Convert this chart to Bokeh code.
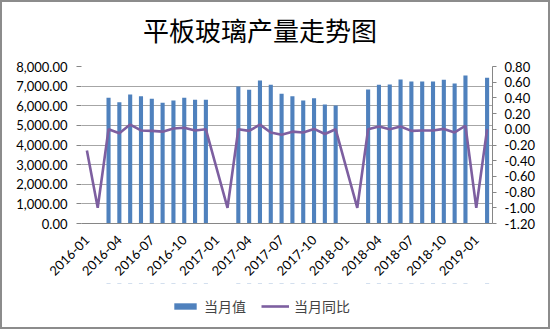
import math
from bokeh.plotting import figure
from bokeh.layouts import column
from bokeh.models import (Range1d, LinearAxis, FixedTicker, NumeralTickFormatter,
                          ColumnDataSource, Legend, LegendItem, Div)
from bokeh.embed import file_html
from bokeh.resources import INLINE

nan = float("nan")

months = [
    "2016-01", "2016-02", "2016-03", "2016-04", "2016-05", "2016-06", "2016-07", "2016-08",
    "2016-09", "2016-10", "2016-11", "2016-12",
    "2017-01", "2017-02", "2017-03", "2017-04", "2017-05", "2017-06", "2017-07", "2017-08",
    "2017-09", "2017-10", "2017-11", "2017-12",
    "2018-01", "2018-02", "2018-03", "2018-04", "2018-05", "2018-06", "2018-07", "2018-08",
    "2018-09", "2018-10", "2018-11", "2018-12",
    "2019-01", "2019-02",
]

monthly_value = [
    nan, nan, 6405, 6182, 6573, 6488, 6352, 6150, 6267, 6405, 6302, 6302,
    nan, nan, 6981, 6811, 7287, 7066, 6607, 6488, 6267, 6386, 6064, 6013,
    nan, nan, 6828, 7066, 7083, 7338, 7236, 7236, 7236, 7321, 7134, 7541,
    nan, 7423,
]

yoy = [
    -0.27, -1.00, 0.00, -0.05, 0.06, -0.015, -0.02, -0.03, 0.01, 0.02, -0.015, 0.00,
    nan, -1.00, 0.00, -0.02, 0.06, -0.04, -0.07, -0.03, -0.04, 0.005, -0.06, 0.00,
    nan, -1.00, 0.00, 0.035, 0.00, 0.035, -0.02, -0.015, -0.015, 0.005, -0.04, 0.045,
    -1.00, 0.00,
]

tick_labels = ["2016-01", "2016-04", "2016-07", "2016-10", "2017-01", "2017-04", "2017-07",
               "2017-10", "2018-01", "2018-04", "2018-07", "2018-10", "2019-01"]

left_ticks = [0, 1000, 2000, 3000, 4000, 5000, 6000, 7000, 8000]
right_ticks = [-1.2, -1.0, -0.8, -0.6, -0.4, -0.2, 0.0, 0.2, 0.4, 0.6, 0.8]

title_text = "平板玻璃产量走势图"
bar_name = "当月值"
line_name = "当月同比"

FONT = "Lato"
CJK = "Noto Sans CJK SC"
BLUE = "#4F81BD"
PURPLE = "#7D5FA0"
GRID = "#A6A6A6"
EDGE = "2px solid #8C8C8C"

n = len(months)
xs = list(range(n))

TITLE_H = 44
LEG_H = 46
MAIN_H = 329 - TITLE_H - LEG_H
FRAME_TOP = 66 - TITLE_H
FRAME_BOTTOM = 223 - TITLE_H

# title strip
title_div = Div(text=title_text, width=550, height=TITLE_H,
                styles={"font-family": CJK, "font-size": "26px", "line-height": "26px",
                        "color": "#000000", "padding-left": "141px", "padding-top": "15px",
                        "box-sizing": "border-box", "background": "white",
                        "border-left": EDGE, "border-top": EDGE, "border-right": EDGE,
                        "white-space": "nowrap", "margin": "0"})

p = figure(width=550, height=MAIN_H, output_backend="svg", toolbar_location=None,
           x_range=Range1d(-0.5, n - 0.5), y_range=Range1d(0, 8000),
           min_border_left=79, min_border_right=60, min_border_top=FRAME_TOP,
           min_border_bottom=MAIN_H - FRAME_BOTTOM)
p.extra_y_ranges = {"y2": Range1d(-1.2, 0.8)}
p.outline_line_color = None
p.background_fill_color = "white"
p.border_fill_color = "white"
p.styles = {"border-left": EDGE, "border-right": EDGE, "box-sizing": "border-box"}

# bars
bar_src = ColumnDataSource(dict(x=xs, top=monthly_value))
bars = p.vbar(x="x", top="top", width=0.38, bottom=0, source=bar_src,
              fill_color=BLUE, line_color=None)

# line (skip missing points, connected)
lx = [x for x, v in zip(xs, yoy) if not math.isnan(v)]
ly = [v for v in yoy if not math.isnan(v)]
line_src = ColumnDataSource(dict(x=lx, y=ly))
line = p.line("x", "y", source=line_src, y_range_name="y2", line_color=PURPLE, line_width=2.6)

# grid
p.xgrid.visible = False
p.ygrid.ticker = FixedTicker(ticks=left_ticks)
p.ygrid.grid_line_color = GRID
p.ygrid.grid_line_width = 1

# left axis
ya = p.yaxis[0]
ya.ticker = FixedTicker(ticks=left_ticks)
ya.formatter = NumeralTickFormatter(format="0,0.00")
ya.major_label_text_font = FONT
ya.major_label_text_font_size = "13px"
ya.major_label_text_color = "#000000"
ya.axis_line_color = None
ya.major_tick_line_color = "#868686"
ya.major_tick_in = 0
ya.major_tick_out = 5
ya.minor_tick_line_color = None
ya.major_label_standoff = 9

# right axis
ra = LinearAxis(y_range_name="y2", ticker=FixedTicker(ticks=right_ticks),
                formatter=NumeralTickFormatter(format="0.00"))
ra.major_label_text_font = FONT
ra.major_label_text_font_size = "13px"
ra.major_label_text_color = "#000000"
ra.axis_line_color = "#868686"
ra.major_tick_line_color = "#868686"
ra.major_tick_in = 0
ra.major_tick_out = 4
ra.minor_tick_line_color = None
ra.major_label_standoff = 8
p.add_layout(ra, "right")

# x axis
xa = p.xaxis[0]
tick_pos = [months.index(lbl) for lbl in tick_labels]
xa.ticker = FixedTicker(ticks=tick_pos)
xa.major_label_overrides = {i: months[i] for i in tick_pos}
xa.major_label_orientation = math.pi / 4
xa.major_label_text_font = FONT
xa.major_label_text_font_size = "13px"
xa.major_label_text_color = "#000000"
xa.axis_line_color = "#868686"
xa.major_tick_line_color = None
xa.minor_tick_line_color = None
xa.major_label_standoff = 8

# legend strip: same data drawn out of view, used only for the legend swatches
pl = figure(width=550, height=LEG_H, output_backend="svg", toolbar_location=None,
            x_range=Range1d(-0.5, n - 0.5), y_range=Range1d(-3, -2),
            x_axis_location=None, y_axis_location=None,
            min_border_left=79, min_border_right=60, min_border_top=0, min_border_bottom=0)
pl.grid.visible = False
pl.outline_line_color = None
pl.border_fill_color = "white"
pl.background_fill_color = "white"
pl.styles = {"border-left": EDGE, "border-bottom": EDGE, "border-right": EDGE,
             "box-sizing": "border-box"}
proto_bar = pl.vbar(x="x", top="top", width=0.38, bottom=0, source=bar_src,
                    fill_color=BLUE, line_color=None)
proto_line = pl.line("x", "y", source=line_src, line_color=PURPLE, line_width=2.6)

legend = Legend(items=[LegendItem(label=bar_name, renderers=[proto_bar]),
                       LegendItem(label=line_name, renderers=[proto_line])],
                orientation="horizontal", location=(90, 13),
                label_text_font=CJK, label_text_font_size="14px",
                glyph_width=28, glyph_height=8, label_standoff=5, spacing=15,
                padding=0, margin=0, border_line_color=None, background_fill_alpha=0)
pl.add_layout(legend, "center")

layout = column(title_div, p, pl, spacing=0)
open("out.html", "w").write(file_html(layout, INLINE))
